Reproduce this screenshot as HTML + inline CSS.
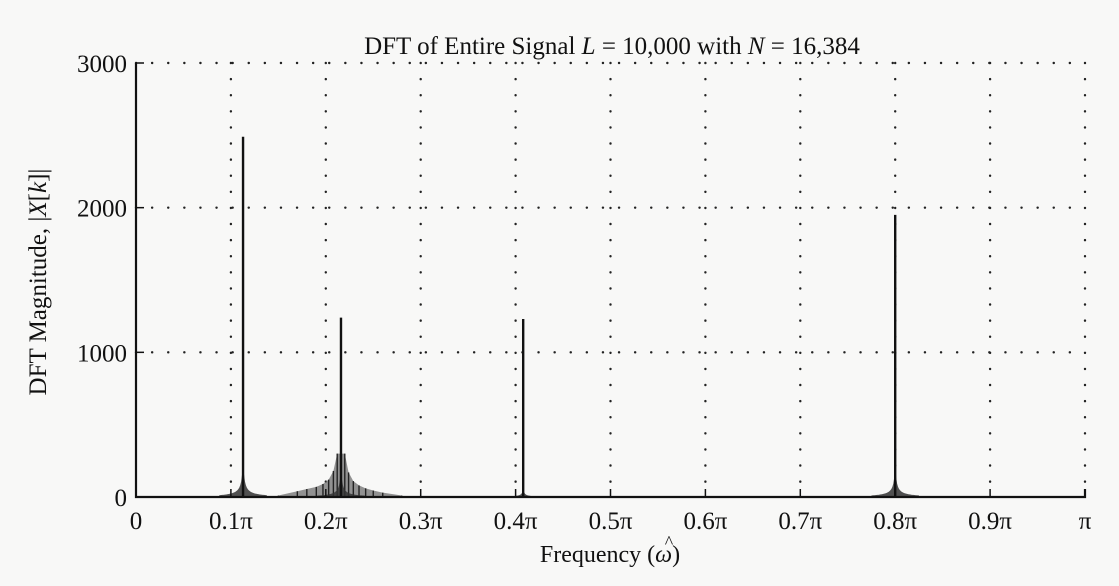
<!DOCTYPE html>
<html><head><meta charset="utf-8"><style>
html,body{margin:0;padding:0;background:#f8f8f7;}
svg{display:block;font-family:"Liberation Serif",serif;}
</style></head><body>
<svg width="1119" height="586" viewBox="0 0 1119 586">
<rect width="1119" height="586" fill="#f8f8f7"/>
<g id="grid"></g>
<g id="marks"></g>
<g id="axes"></g>
<text x="612" y="54" font-size="25" text-anchor="middle" fill="#111">DFT of Entire Signal <tspan font-style="italic">L</tspan> = 10,000 with <tspan font-style="italic">N</tspan> = 16,384</text>
<text x="610" y="562" font-size="24" text-anchor="middle" fill="#111">Frequency (<tspan font-style="italic">ω</tspan>)</text>
<text x="669" y="548" font-size="18" text-anchor="middle" fill="#111">^</text>
<text transform="translate(46,282) rotate(-90)" font-size="25" text-anchor="middle" fill="#111">DFT Magnitude, |<tspan font-style="italic">X</tspan>[<tspan font-style="italic">k</tspan>]|</text>
</svg>
<script>
const xTicks=[0,0.1,0.2,0.3,0.4,0.5,0.6,0.7,0.8,0.9,1.0];
const xTickLabels=["0","0.1π","0.2π","0.3π","0.4π","0.5π","0.6π","0.7π","0.8π","0.9π","π"];
const yTicks=[0,1000,2000,3000];
const yTickLabels=["0","1000","2000","3000"];
const peakFreqs=[0.1128,0.216,0.408,0.800];
const peakHeights=[2490,1240,1230,1950];
const skirtHeights=[300,230,60,260];
const rippleFreqs=[0.15,0.17,0.18,0.19,0.197,0.203,0.208,0.212,0.22,0.224,0.229,0.235,0.242,0.25,0.26,0.28];
const rippleHeights=[10,40,55,70,90,120,180,300,300,170,110,80,60,45,30,10];

const NS="http://www.w3.org/2000/svg";
const X0=136,X1=1085,Y0=497,Y1=63;
const sx=f=>X0+(X1-X0)*f;
const sy=v=>Y0-(Y0-Y1)*v/3000;
function mk(tag,attrs,parent){const e=document.createElementNS(NS,tag);for(const k in attrs)e.setAttribute(k,attrs[k]);parent.appendChild(e);return e;}
const grid=document.getElementById('grid'),axes=document.getElementById('axes'),marks=document.getElementById('marks');

xTicks.forEach((t,i)=>{
  if(t>0){const l=mk('line',{x1:sx(t),x2:sx(t),y1:Y1,y2:Y0,stroke:'#222','stroke-width':2.4,'stroke-dasharray':'0.1 16','stroke-linecap':'round'},grid);
  
  }
  const tk=mk('line',{x1:sx(t),x2:sx(t),y1:Y0,y2:Y0-8,stroke:'#111','stroke-width':1.5},axes);
  
  
  const tx=mk('text',{x:sx(t),y:529,'font-size':25,'text-anchor':'middle',fill:'#111'},axes);
  tx.textContent=xTickLabels[i];
  
  
});
yTicks.forEach((v,i)=>{
  if(v>0){const l=mk('line',{x1:X0,x2:X1,y1:sy(v),y2:sy(v),stroke:'#222','stroke-width':2.4,'stroke-dasharray':'0.1 16','stroke-linecap':'round'},grid);
  
  }
  const tk=mk('line',{x1:X0,x2:X0+8,y1:sy(v),y2:sy(v),stroke:'#111','stroke-width':1.5},axes);
  
  
  const tx=mk('text',{x:X0-9,y:sy(v)+9,'font-size':25,'text-anchor':'end',fill:'#111'},axes);
  tx.textContent=yTickLabels[i];
  
  
});
const ax=mk('path',{d:`M${X0} ${Y1} V${Y0} H${X1} V${Y0-8}`,fill:'none',stroke:'#111','stroke-width':2.2},axes);



// ripple envelope
let rd=`M${sx(rippleFreqs[0])} ${Y0}`;
rippleFreqs.forEach((f,i)=>{rd+=` L${sx(f)} ${sy(rippleHeights[i])}`;});
rd+=` L${sx(rippleFreqs[rippleFreqs.length-1])} ${Y0} Z`;
const env=mk('path',{d:rd,fill:'#777',opacity:0.8},marks);


rippleFreqs.forEach((f,i)=>{
  const r=mk('line',{x1:sx(f),x2:sx(f),y1:Y0,y2:sy(rippleHeights[i]),stroke:'#222','stroke-width':1.4},marks);
  
  
});
peakFreqs.forEach((f,i)=>{
  const h=skirtHeights[i],w=0.025;
  let d=`M${sx(f-w)} ${Y0}`;
  for(let k=-25;k<=25;k++){const df=k/25*w;const v=h/(1+Math.abs(df)*900);d+=` L${sx(f+df)} ${sy(v)}`;}
  d+=` L${sx(f+w)} ${Y0} Z`;
  const s=mk('path',{d,fill:'#333',opacity:0.85},marks);
  
  
  const p=mk('line',{x1:sx(f),x2:sx(f),y1:Y0,y2:sy(peakHeights[i]),stroke:'#111','stroke-width':2.4},marks);
  
  
});
</script>
</body></html>
